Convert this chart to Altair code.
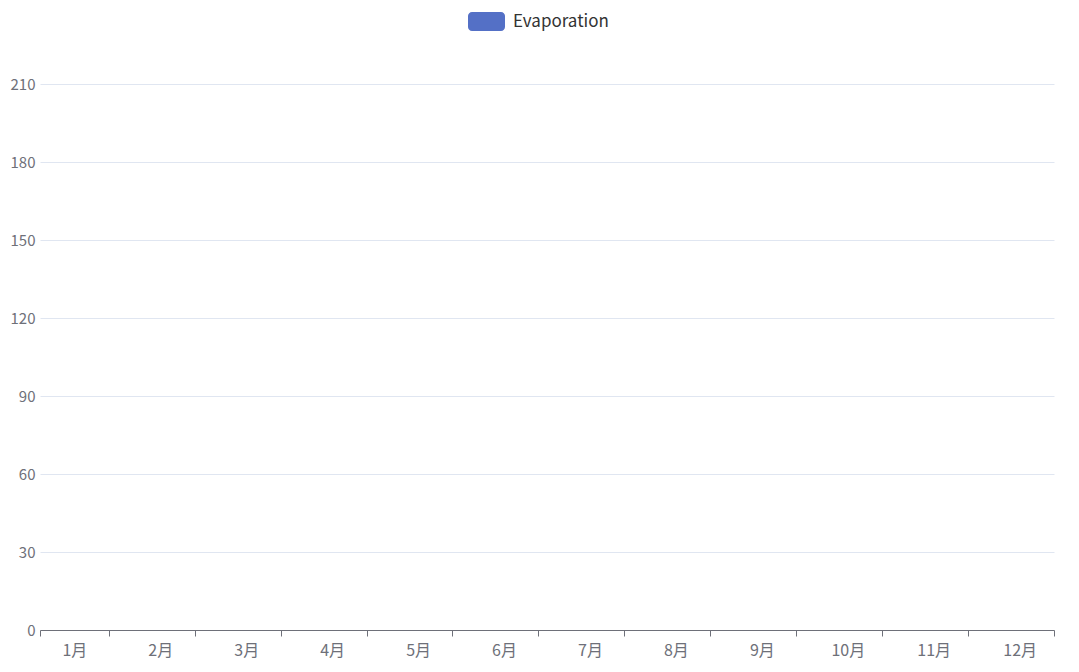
import altair as alt
import pandas as pd

months = ["1月", "2月", "3月", "4月", "5月", "6月", "7月", "8月", "9月", "10月", "11月", "12月"]
evaporation = [0, 0, 0, 0, 0, 0, 0, 0, 0, 0, 0, 0]
series_name = "Evaporation"
y_ticks = [0, 30, 60, 90, 120, 150, 180, 210]

df = pd.DataFrame({"month": months, "value": evaporation, "series": [series_name] * len(months)})

FONT = "Noto Sans CJK SC"
# wide rounded rectangle (about 37 x 19 px at symbolSize 361)
rrect = ("M-1.527,-1 L1.527,-1 A0.42,0.42 0 0 1 1.947,-0.58 L1.947,0.58 "
         "A0.42,0.42 0 0 1 1.527,1 L-1.527,1 A0.42,0.42 0 0 1 -1.947,0.58 "
         "L-1.947,-0.58 A0.42,0.42 0 0 1 -1.527,-1 Z")

PLOT_LEFT = 32  # offset inside the svg (page margin 8 added)

chart = alt.Chart(df).mark_bar().encode(
    x=alt.X("month:N", sort=months, title=None,
            scale=alt.Scale(paddingInner=0.2, paddingOuter=0),
            axis=alt.Axis(labelAngle=0, tickBand="extent", domainColor="#6E7079",
                          tickColor="#6E7079", tickSize=6, labelColor="#6E7079",
                          labelFontSize=16, labelFont=FONT, labelPadding=6, grid=False)),
    y=alt.Y("value:Q", title=None,
            scale=alt.Scale(domain=[0, 210], nice=False),
            axis=alt.Axis(values=y_ticks, domain=False, ticks=False, labelColor="#6E7079",
                          labelFontSize=15, labelFont=FONT, labelPadding=5,
                          gridColor="#E0E6F1", gridWidth=1)),
    color=alt.Color("series:N", scale=alt.Scale(range=["#5470C6"]),
                    legend=alt.Legend(title=None, orient="none", legendX=437,
                                      legendY=-72, padding=0, direction="horizontal",
                                      symbolType=rrect,
                                      symbolSize=361, symbolStrokeWidth=0, symbolOpacity=1,
                                      labelFontSize=17, labelFont=FONT, labelColor="#333333",
                                      labelOffset=17)),
).properties(
    width=1054 - 8 - PLOT_LEFT, height=546,
    autosize=alt.AutoSizeParams(type="none"),
    padding={"left": PLOT_LEFT, "top": 76, "right": 17, "bottom": 34},
).configure_view(stroke=None)

chart.save("out.html", embed_options={"renderer": "svg", "actions": False})
